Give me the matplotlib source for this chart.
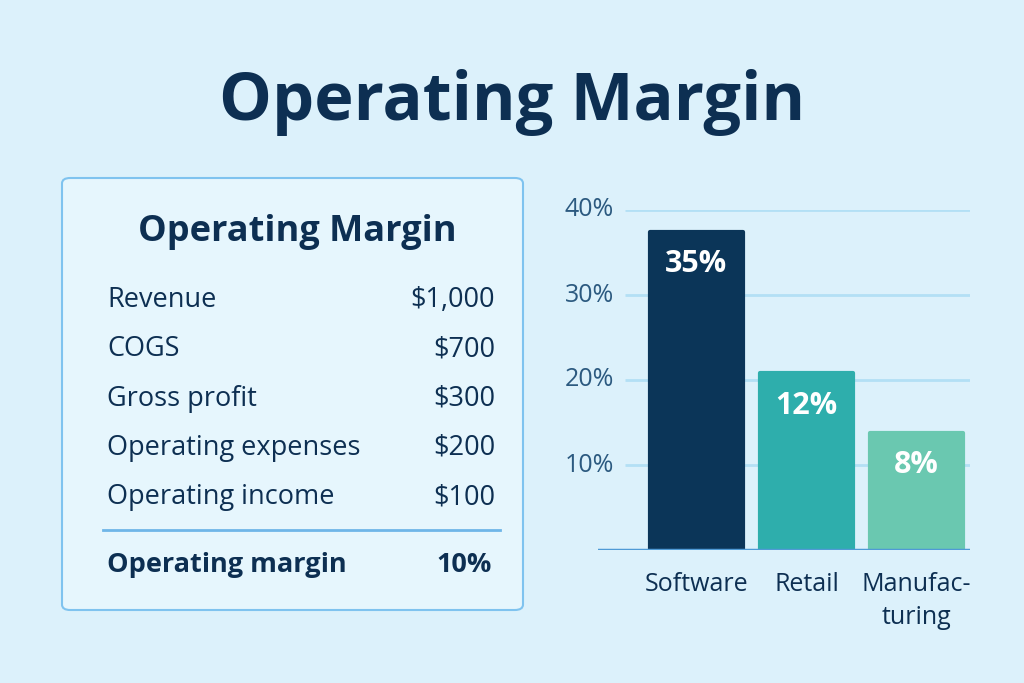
import matplotlib.pyplot as plt
from matplotlib.patches import FancyBboxPatch

# table panel
row_labels = ['Revenue', 'COGS', 'Gross profit', 'Operating expenses', 'Operating income']
row_values = ['$1,000', '$700', '$300', '$200', '$100']
total_label = 'Operating margin'
total_value = '10%'

# bar chart (heights as drawn, labels as printed)
categories = ['Software', 'Retail', 'Manufac-\nturing']
bar_heights = [37.4, 20.8, 13.8]
bar_labels = ['35%', '12%', '8%']
yticks = [10, 20, 30, 40]
colors = ['#0b3558', '#2eaeac', '#6ac8b0']

W, H = 1024, 683
navy = '#0d2f52'
plt.rcParams['font.family'] = ['Open Sans', 'DejaVu Sans']
fig = plt.figure(figsize=(W / 100, H / 100), dpi=100)
fig.patch.set_facecolor('#dcf1fb')

def fx(px): return px / W
def fy(py): return 1 - py / H

fig.text(0.5, fy(102), 'Operating Margin', ha='center', va='center',
         fontsize=48, fontweight='bold', color=navy)

# panel
box = FancyBboxPatch((fx(62), fy(610)), fx(523) - fx(62), fy(178) - fy(610),
                     boxstyle='round,pad=0,rounding_size=0.008', transform=fig.transFigure,
                     facecolor='#e6f6fd', edgecolor='#7fc3ef', linewidth=1.5)
fig.patches.append(box)
fig.text(fx(297), fy(232), 'Operating Margin', ha='center', va='center',
         fontsize=26, fontweight='bold', color=navy)
for i, (lab, val) in enumerate(zip(row_labels, row_values)):
    y = 300 + i * 49.3
    fig.text(fx(107), fy(y), lab, ha='left', va='center', fontsize=19.5, color=navy)
    fig.text(fx(495), fy(y), val, ha='right', va='center', fontsize=19.5, color=navy)
fig.add_artist(plt.Line2D([fx(103), fx(500)], [fy(530), fy(530)],
                          transform=fig.transFigure, color='#6fb6e8', lw=2))
fig.text(fx(107), fy(565), total_label, ha='left', va='center', fontsize=19.5,
         fontweight='bold', color=navy)
fig.text(fx(492), fy(565), total_value, ha='right', va='center', fontsize=19.5,
         fontweight='bold', color=navy)

# bar chart
ax = fig.add_axes([fx(598), fy(550), fx(970) - fx(598), fy(210) - fy(550)])
ax.set_facecolor('none')
step = 110
x0 = 696.5
ax.set_xlim(-(x0 - 598) / step, (970 - x0) / step)
ax.set_ylim(0, 40)
ax.axis('off')
gx = -(x0 - 625) / step
for t in yticks:
    ax.hlines(t, gx, ax.get_xlim()[1], color='#b3e0f5', lw=2, zorder=0)
    ax.text(-(x0 - 614) / step, t, f'{t}%', ha='right', va='center',
            fontsize=18, color='#2c5a80')
ax.axhline(0, color='#4f9ad6', lw=2.5, zorder=3)
xs = range(len(categories))
ax.bar(xs, bar_heights, width=0.85, color=colors, edgecolor=colors,
       linewidth=3, joinstyle='round', zorder=2)
for x, h, lab in zip(xs, bar_heights, bar_labels):
    ax.text(x, h - 3.8, lab, ha='center', va='center', fontsize=22,
            fontweight='bold', color='white')
for x, c in zip(xs, categories):
    ax.text(x, -2.6, c, ha='center', va='top', fontsize=18, color=navy,
            linespacing=1.4)

fig.savefig('out.png', dpi=100, facecolor=fig.get_facecolor())
